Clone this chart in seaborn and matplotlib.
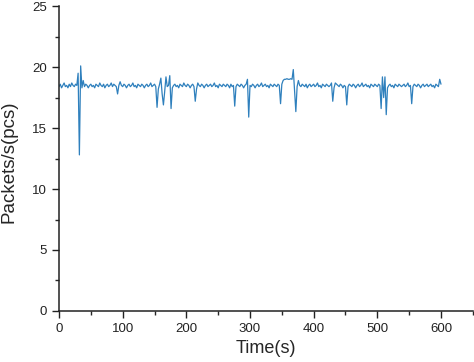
"""Packets per second over time."""
import matplotlib

matplotlib.use("Agg")
import matplotlib.pyplot as plt
import numpy as np
import pandas as pd
import seaborn as sns
from matplotlib.ticker import MultipleLocator

# sampled every 2 s, 0..600 s
time_s = np.arange(0, 601, 2)
packets = [
    18.4, 18.6, 18.3, 18.5, 18.7, 18.4, 18.5, 18.3, 18.6, 18.4,
    18.7, 18.5, 18.4, 18.6, 18.5, 19.5, 12.8, 20.1, 18.3, 18.9,
    18.4, 18.6, 18.5, 18.3, 18.5, 18.6, 18.4, 18.5, 18.3, 18.6,
    18.5, 18.4, 18.7, 18.5, 18.4, 18.6, 18.3, 18.5, 18.6, 18.4,
    18.5, 18.7, 18.4, 18.6, 18.5, 18.4, 17.8, 18.5, 18.8, 18.5,
    18.4, 18.6, 18.5, 18.3, 18.5, 18.6, 18.4, 18.5, 18.7, 18.4,
    18.5, 18.3, 18.6, 18.5, 18.4, 18.6, 18.5, 18.3, 18.5, 18.6,
    18.4, 18.5, 18.7, 18.4, 18.5, 18.6, 18.4, 16.7, 18.2, 18.6,
    19.1, 17.8, 16.9, 18.0, 19.2, 18.4, 18.5, 19.3, 16.6, 18.3,
    18.5, 18.6, 18.4, 18.5, 18.3, 18.6, 18.5, 18.4, 18.7, 18.5,
    18.4, 18.6, 18.5, 18.3, 18.5, 18.6, 18.4, 17.2, 18.2, 18.7,
    18.5, 18.4, 18.6, 18.5, 18.3, 18.5, 18.6, 18.4, 18.5, 18.6,
    18.4, 18.5, 18.7, 18.4, 18.5, 18.3, 18.6, 18.5, 18.4, 18.6,
    18.5, 18.4, 18.6, 18.5, 18.3, 18.6, 18.4, 18.5, 16.8, 18.4,
    18.6, 18.5, 18.4, 18.6, 18.5, 18.3, 18.5, 18.6, 19.0, 15.9,
    18.5, 18.4, 18.6, 18.5, 18.3, 18.5, 18.6, 18.4, 18.5, 18.7,
    18.4, 18.5, 18.6, 18.4, 18.5, 18.3, 18.6, 18.5, 18.4, 18.6,
    18.5, 18.4, 18.6, 18.5, 17.0, 18.6, 18.9, 19.0, 19.0, 19.05,
    19.0, 19.0, 19.05, 19.0, 19.8, 18.0, 16.35, 18.4, 18.9, 18.5,
    18.4, 18.6, 18.5, 18.4, 18.6, 18.3, 18.5, 18.6, 18.4, 18.5,
    18.6, 18.4, 18.5, 18.7, 18.4, 18.5, 18.3, 18.6, 18.5, 18.4,
    18.6, 18.5, 18.4, 18.5, 18.7, 17.2, 18.3, 18.7, 18.6, 18.5,
    18.4, 18.6, 18.5, 18.3, 18.5, 18.4, 16.9, 18.4, 18.6, 18.5,
    18.4, 18.6, 18.5, 18.3, 18.5, 18.6, 18.4, 18.5, 18.7, 18.4,
    18.5, 18.6, 18.4, 18.5, 18.3, 18.6, 18.5, 18.4, 18.6, 18.5,
    18.4, 18.6, 18.5, 16.6, 19.2, 17.5, 19.2, 16.1, 18.3, 18.5,
    18.6, 18.4, 18.5, 18.3, 18.6, 18.5, 18.4, 18.6, 18.5, 18.4,
    18.5, 18.6, 18.4, 18.5, 18.7, 18.4, 18.5, 17.0, 18.4, 18.6,
    18.5, 18.4, 18.6, 18.5, 18.3, 18.5, 18.6, 18.4, 18.5, 18.6,
    18.4, 18.5, 18.6, 18.4, 18.5, 18.3, 18.6, 18.5, 18.4, 19.0,
    18.6,
]

sns.set_style("ticks")
plt.rcParams["font.family"] = ["Liberation Sans", "DejaVu Sans"]

df = pd.DataFrame({"time": time_s, "packets": packets})

fig = plt.figure(figsize=(4.74, 3.62), dpi=100)
ax = fig.add_axes([0.1245, 0.141, 0.873, 0.842])
sns.lineplot(data=df, x="time", y="packets", ax=ax, color="#2f80bd", linewidth=0.9)

ax.set_xlim(0, 650)
ax.set_ylim(0, 25)
ax.xaxis.set_major_locator(MultipleLocator(100))
ax.xaxis.set_minor_locator(MultipleLocator(50))
ax.yaxis.set_major_locator(MultipleLocator(5))
ax.yaxis.set_minor_locator(MultipleLocator(2.5))
ax.set_xticks([0, 100, 200, 300, 400, 500, 600])
ax.tick_params(which="major", length=5, width=1, labelsize=9.5, colors="#222222")
ax.tick_params(which="minor", length=3, width=1)
ax.set_xlabel("Time(s)", fontsize=13, labelpad=4)
ax.set_ylabel("Packets/s(pcs)", fontsize=13.5)
ax.yaxis.set_label_coords(-0.1, 0.49)
sns.despine(ax=ax)
for s in ("left", "bottom"):
    ax.spines[s].set_linewidth(1.1)
    ax.spines[s].set_color("#222222")

fig.savefig("out.png", dpi=100)
plt.close(fig)
